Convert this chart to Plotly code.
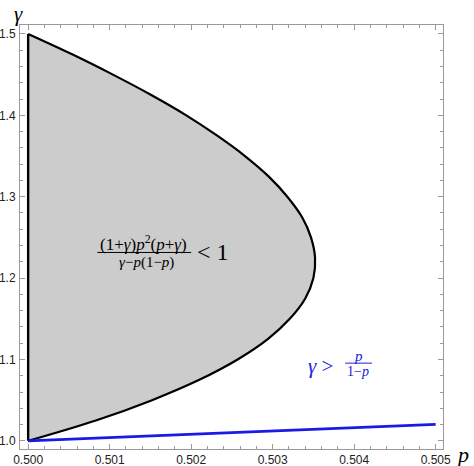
import plotly.graph_objects as go

# boundary of the shaded region (gamma -> p)
gamma_vals = [1.000, 1.025, 1.050, 1.075, 1.100, 1.125, 1.150, 1.175, 1.200, 1.225, 1.250,
              1.275, 1.300, 1.325, 1.350, 1.375, 1.400, 1.425, 1.450, 1.475, 1.500]
p_boundary = [0.50000, 0.50083, 0.50152, 0.50210, 0.50257, 0.50294, 0.50321, 0.50340, 0.50350, 0.50352, 0.50347,
              0.50336, 0.50318, 0.50295, 0.50266, 0.50232, 0.50194, 0.50151, 0.50104, 0.50054, 0.50000]

# blue line gamma = p/(1-p)
p_line = [0.500, 0.501, 0.502, 0.503, 0.504, 0.505]
gamma_line = [1.0000, 1.0040, 1.0080, 1.0121, 1.0161, 1.0202]

x_ticks = [0.500, 0.501, 0.502, 0.503, 0.504, 0.505]
y_ticks = [1.0, 1.1, 1.2, 1.3, 1.4, 1.5]

serif = "Liberation Serif"
frame = "#9a9a9a"
blue = "#2020e0"

fig = go.Figure()
fig.add_trace(go.Scatter(x=p_boundary, y=gamma_vals, mode="lines", fill="toself",
                         fillcolor="#cccccc", line=dict(color="black", width=2.2, shape="spline"),
                         hoverinfo="skip"))
# straight left edge of the region (closing segment)
fig.add_trace(go.Scatter(x=[p_boundary[-1], p_boundary[0]], y=[gamma_vals[-1], gamma_vals[0]],
                         mode="lines", line=dict(color="black", width=2.4), hoverinfo="skip"))
fig.add_trace(go.Scatter(x=p_line, y=gamma_line, mode="lines",
                         line=dict(color="#1a1ae6", width=2.6), hoverinfo="skip"))

axis_common = dict(showline=True, linecolor=frame, linewidth=1, mirror="allticks",
                   ticks="inside", ticklen=5, tickcolor=frame, showgrid=False, zeroline=False,
                   automargin=False,
                   tickfont=dict(family="Liberation Sans", size=12, color="#222"),
                   minor=dict(ticks="inside", ticklen=3, tickcolor=frame, showgrid=False))

fig.update_xaxes(range=[0.4999, 0.50509], tickvals=x_ticks, tickformat=".3f",
                 ticklabelstandoff=0, **axis_common)
fig.update_xaxes(minor_dtick=0.0002)
fig.update_yaxes(range=[0.990, 1.511], tickvals=y_ticks, tickformat=".1f", ticklabelstandoff=1,
                 **axis_common)
fig.update_yaxes(minor_dtick=0.02)

ann = []
# region label
ann.append(dict(x=0.50142, y=1.243, text="(1+<i>γ</i>)<i>p</i><sup>2</sup>(<i>p</i>+<i>γ</i>)",
                font=dict(family=serif, size=17, color="black")))
ann.append(dict(x=0.50145, y=1.219, text="<i>γ</i>−<i>p</i>(1−<i>p</i>)",
                font=dict(family=serif, size=15, color="black")))
ann.append(dict(x=0.50227, y=1.232, text="&lt; 1",
                font=dict(family=serif, size=24, color="black")))
# blue label
ann.append(dict(x=0.50359, y=1.092, text="<i>γ</i> &gt;",
                font=dict(family=serif, size=21, color=blue)))
ann.append(dict(x=0.50405, y=1.104, text="<i>p</i>",
                font=dict(family=serif, size=15, color=blue)))
ann.append(dict(x=0.50405, y=1.085, text="1−<i>p</i>",
                font=dict(family=serif, size=14, color=blue)))
# axis labels
ann.append(dict(x=-0.003, y=1.059, xref="paper", yref="paper", text="<i>γ</i>",
                xanchor="center", yanchor="top",
                font=dict(family=serif, size=21, color="black")))
ann.append(dict(x=1.047, y=-0.012, xref="paper", yref="paper", text="<i>p</i>",
                xanchor="center", yanchor="middle",
                font=dict(family=serif, size=22, color="black")))
for a in ann:
    a.setdefault("showarrow", False)
    a.setdefault("xref", "x")
    a.setdefault("yref", "y")

fig.update_layout(
    width=474, height=466,
    margin=dict(l=20, r=31, t=25, b=17, autoexpand=False),
    plot_bgcolor="white", paper_bgcolor="white",
    showlegend=False,
    annotations=ann,
    shapes=[
        dict(type="line", xref="x", yref="y", x0=0.50085, x1=0.50200, y0=1.2315, y1=1.2315,
             line=dict(color="black", width=1)),
        dict(type="line", xref="x", yref="y", x0=0.50389, x1=0.50422, y0=1.0955, y1=1.0955,
             line=dict(color=blue, width=1)),
    ],
)

# drop the default 8px page margin so the figure sits at the window corner
fig.write_html("out.html", config={"displayModeBar": False},
               post_script="document.body.style.margin='0';")
